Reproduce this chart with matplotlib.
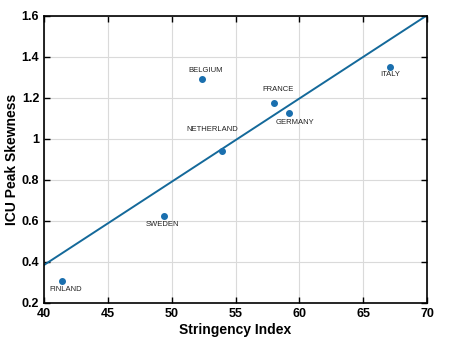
import numpy as np
import matplotlib.pyplot as plt
from matplotlib.ticker import FuncFormatter

plt.rcParams['font.family'] = ['Liberation Sans', 'DejaVu Sans']

# Country data
countries = ['BELGIUM', 'NETHERLAND', 'FRANCE', 'GERMANY', 'ITALY', 'SWEDEN', 'FINLAND']
stringency = [52.4, 53.9, 58.0, 59.2, 67.1, 49.4, 41.4]
skewness = [1.29, 0.94, 1.175, 1.125, 1.35, 0.625, 0.305]

# label offsets in points (dx, dy) and alignment
label_offsets = {
    'BELGIUM': (2, 4, 'bottom'),
    'NETHERLAND': (-7, 13, 'bottom'),
    'FRANCE': (3, 7, 'bottom'),
    'GERMANY': (4, -4, 'top'),
    'ITALY': (0, -3, 'top'),
    'SWEDEN': (-1, -4, 'top'),
    'FINLAND': (3, -3, 'top'),
}

fig = plt.figure(figsize=(4.74, 3.43), dpi=100)
ax = fig.add_axes([0.093, 0.117, 0.808, 0.837])

# least squares fit line
slope, intercept = np.polyfit(stringency, skewness, 1)
xs = np.array([40, 70])
ax.plot(xs, slope * xs + intercept, color='#14699a', linewidth=1.4, zorder=2)

ax.scatter(stringency, skewness, s=16, color='#1a6fae', zorder=3)

for name, x, y in zip(countries, stringency, skewness):
    dx, dy, va = label_offsets[name]
    ax.annotate(name, (x, y), xytext=(dx, dy), textcoords='offset points',
                ha='center', va=va, fontsize=5.5, color='#222222')

ax.set_xlim(40, 70)
ax.set_ylim(0.2, 1.6)
ax.set_xticks(np.arange(40, 71, 5))
ax.set_yticks(np.arange(0.2, 1.61, 0.2))
ax.yaxis.set_major_formatter(FuncFormatter(lambda v, p: f'{v:g}'))

ax.grid(True, color='#dadada', linewidth=0.8)
ax.set_axisbelow(True)
ax.tick_params(direction='in', top=True, right=True, length=4, width=1,
               labelsize=9)
for lbl in ax.get_xticklabels() + ax.get_yticklabels():
    lbl.set_fontweight('bold')
for sp in ax.spines.values():
    sp.set_linewidth(1.2)

ax.set_xlabel('Stringency Index', fontsize=10, fontweight='bold', labelpad=2)
ax.set_ylabel('ICU Peak Skewness', fontsize=10, fontweight='bold', labelpad=2)

plt.savefig('out.png', dpi=100)
